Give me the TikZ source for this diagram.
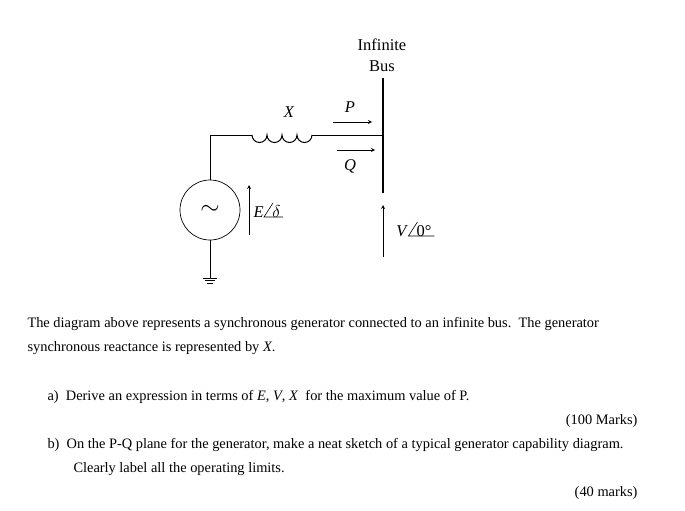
\documentclass[tikz,border=0pt]{standalone}
\usepackage{fontspec}
\setmainfont{Liberation Serif}
\begin{document}
\begin{tikzpicture}[x=1pt,y=-1pt,line width=1pt,
  lab/.style={inner sep=0pt,font=\fontsize{16.5}{18}\selectfont},
  ilab/.style={inner sep=0pt,font=\itshape\fontsize{16.5}{18}\selectfont},
  txt/.style={inner sep=0pt,anchor=west,font=\fontsize{14.4}{24}\selectfont},
  arr/.style={->,>=stealth,line width=0.8pt}]
\useasboundingbox (0,0) rectangle (685,511);
\node[lab] (inf) at (382,45) {Infinite};
\node[lab] (bus) at (382,66) {Bus};
\draw[line width=2.5pt] (383,78) coordinate (bt) -- (383,193) coordinate (bb);
\node[draw,circle,minimum size=60pt,inner sep=0pt,line width=0.7pt] (g) at (210,210) {\fontsize{30}{30}\selectfont$\sim$};
\coordinate (c1) at (210,135);
\coordinate (l1) at (252,135);
\coordinate (l2) at (312,135);
\coordinate (bj) at (383,135);
\draw (g.north) -- (c1) -- (l1);
\draw (l1) arc (180:0:7.5) arc (180:0:7.5) arc (180:0:7.5) arc (180:0:7.5);
\draw (l2) -- (bj);
\node[ilab] (X) at (289,112) {X};
\node[ilab] (P) at (350,107) {P};
\coordinate (pa) at (333,122); \coordinate (pb) at (372,122);
\draw[arr] (pa) -- (pb);
\coordinate (qa) at (337,150); \coordinate (qb) at (375,150);
\draw[arr] (qa) -- (qb);
\node[ilab] (Q) at (350,166) {Q};
\coordinate (ea) at (249,235); \coordinate (eb) at (249,185);
\draw[arr] (ea) -- (eb);
\node[lab] (E) at (267,210) {\textit{E}\tikz[baseline=0pt,x=1pt,y=1pt]{\draw[line width=0.6pt](1,14)--(-8,0)--(11,0);}\kern-11pt$\delta$};
\coordinate (va) at (383,257); \coordinate (vb) at (383,205);
\draw[arr] (va) -- (vb);
\node[lab] (V) at (414,229) {\textit{V}\tikz[baseline=0pt,x=1pt,y=1pt]{\draw[line width=0.6pt](1,14)--(-8,0)--(18,0);}\kern-18pt0°};
\coordinate (gr) at (210,278);
\draw[line width=0.7pt] (g.south) -- (gr);
\draw[line width=0.7pt] (203,278) -- (217,278) (205,280.5) -- (215,280.5) (207,283) -- (213,283);
\node[txt,anchor=north west,text width=611pt,align=justify] (t1) at (27,317)
 {The diagram above represents a synchronous generator connected to an infinite bus.\ \ The generator\\ synchronous reactance is represented by \textit{X}.};
\node[txt] (a) at (47,397) {a)\ \ Derive an expression in terms of \textit{E}, \textit{V}, \textit{X}\ \ for the maximum value of P.};
\node[txt,anchor=east] (m1) at (638,421) {(100 Marks)};
\node[txt] (b) at (47,445) {b)\ \ On the P-Q plane for the generator, make a neat sketch of a typical generator capability diagram.};
\node[txt] (b2) at (73,469) {Clearly label all the operating limits.};
\node[txt,anchor=east] (m2) at (638,493) {(40 marks)};
\end{tikzpicture}
\end{document}
